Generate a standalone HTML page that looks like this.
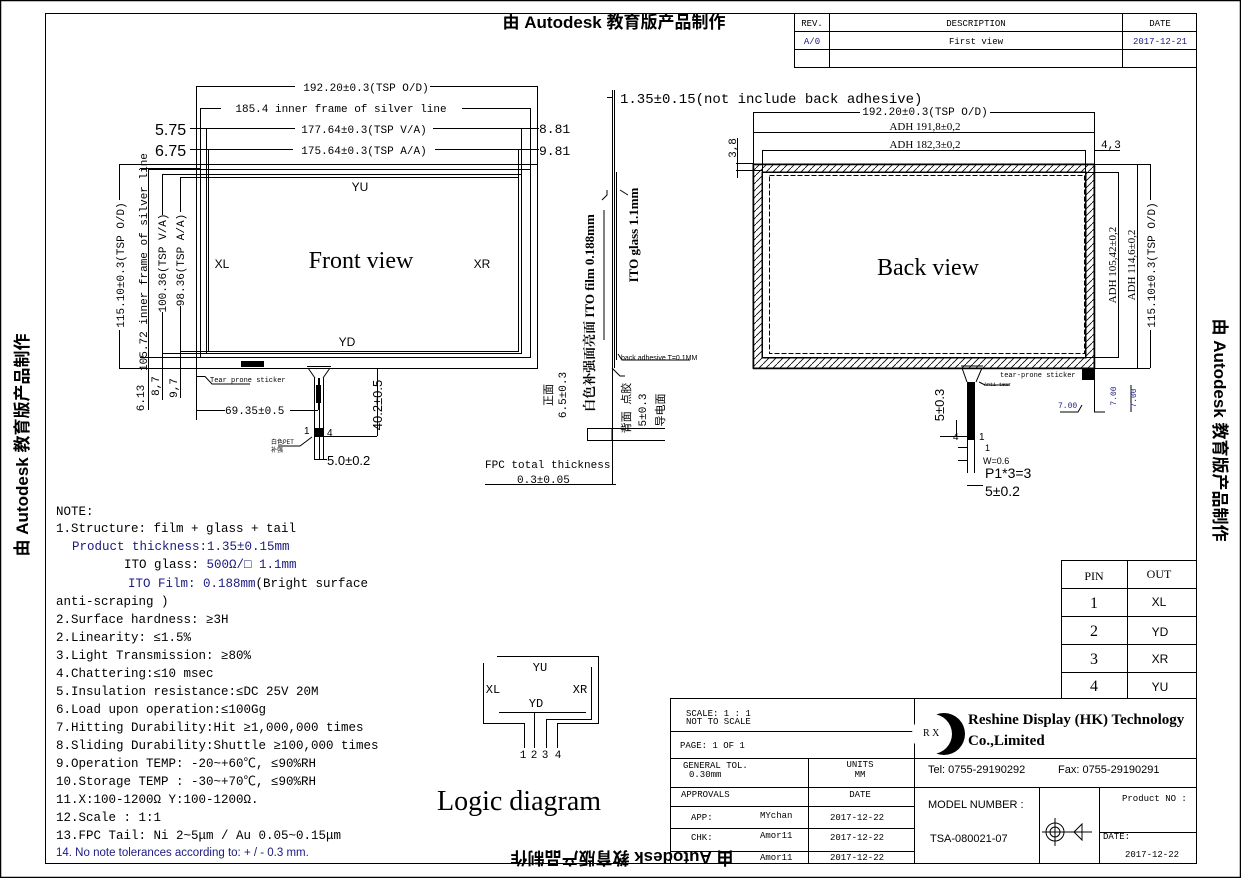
<!DOCTYPE html>
<html><head><meta charset="utf-8"><style>
html,body{margin:0;padding:0;background:#fff}
svg{display:block}
text{font-family:"Liberation Mono","Noto Sans CJK SC",monospace;fill:#000}
.s{font-family:"Liberation Sans","Noto Sans CJK SC",sans-serif}
.r{font-family:"Liberation Serif","Noto Serif CJK SC",serif}
.b{fill:#1a1a80}
</style></head><body>
<svg width="1241" height="878" viewBox="0 0 1241 878" xmlns="http://www.w3.org/2000/svg">
<defs>
<pattern id="h" width="7" height="7" patternUnits="userSpaceOnUse"><path d="M0 7 L7 0" stroke="#000" stroke-width="0.8"/></pattern>
</defs>
<g fill="none" stroke="#000" stroke-width="1">
<rect x="0.5" y="0.5" width="1240" height="877" stroke-width="1.5"/>
<rect x="45.5" y="13.5" width="1151" height="850"/>
<rect x="794.5" y="13.5" width="402" height="54"/>
<path d="M794 31.5H1196M794 49.5H1196M829.5 13V67M1122.5 13V67"/>
<rect x="196.5" y="164.5" width="341" height="204"/>
<rect x="200.5" y="169.5" width="330" height="188"/>
<rect x="206.5" y="174.5" width="315" height="179"/>
<rect x="208.5" y="177.5" width="310" height="174"/>
<path d="M119 164.5H196M119 368.5H196M140 168.5H200M148 169.5H200M162 174.5H206M180 177.5H208M140 357.5H200M162 353.5H206M180 351.5H208"/>
<path d="M196.5 86V164M537.5 86V164M196.5 368V420M200.5 108V169M530.5 108V169M206.5 128V174M521.5 128V174M208.5 149V177M518.5 149V177"/>
<path d="M196 86.5H295M430 86.5H537M200 108.5H221M462 108.5H530M206 128.5H295M433 128.5H539M208 149.5H293M435 149.5H539M190 128.5H206M190 149.5H208"/>
<path d="M119.5 164V200M119.5 330V368M148.5 169V410M162.5 174V215M162.5 312V400M180.5 177V212M180.5 306V398"/>
<path d="M196 410.5H225M290 410.5H318M318.5 378V410"/>
<path d="M307 366.5H331M308 368L315 378M330 368L323 378M314.5 378V459M323.5 378V459M319.5 378V459"/>
<path d="M377.5 368V436M323 436.5H377M314 459.5H327"/>
<path d="M196 376.5H205L212 384H250"/>
<path d="M278 446H300L312 437"/>
<path d="M612.5 90V165M614.5 90V165M607 97.5H612M612.5 165V485M614.5 165V368M616.5 172V360M612 368L620 376H625"/>
<path d="M587.5 428V440M587 428.5H665M587 440.5H665M612 428V440"/>
<path d="M485 484.5H616M618 354L622 360H690"/>
<path d="M602 200L607 195V190M604 340V210M620 190L628 195"/>
<path d="M753 164H1094V368H753Z M762 172V358H1086V172Z" fill="url(#h)" fill-rule="evenodd"/>
<rect x="753.5" y="164.5" width="341" height="204" stroke-width="1.5"/>
<rect x="762.5" y="172.5" width="323" height="185"/>
<rect x="769.5" y="175.5" width="315" height="178" stroke-dasharray="5 2"/>
<path d="M753.5 112V164M1094.5 112V164M762.5 150V172M1085.5 150V172M753 112.5H860M990 112.5H1094M753 132.5H1094M762 150.5H1085M1094 150.5H1120"/>
<path d="M736 163.5H753M736 170.5H762M737.5 138V178"/>
<path d="M1094 164.5H1150M1086 172.5H1118M1086 357.5H1118M1094 368.5H1150M1118.5 172V358M1137.5 164V368M1150.5 164V200M1150.5 330V368"/>
<path d="M961 366H983M962 368L967 382M982 368L976 382M967.5 382V473M974.5 382V473M971 382V440"/>
<path d="M979 382L985 385H1010M1082 405L1078 412H1060"/>
<path d="M940 436.5H967M956.5 420V436M958 460.5H967M958 447.5H967M967 485.5H980M976 485.5H983"/>
<path d="M1094.5 368V412H1105M1094 368.5H1150M1131 385V412"/>
<rect x="1061.5" y="560.5" width="135" height="138"/>
<path d="M1127.5 560V698M1061 588.5H1196M1061 616.5H1196M1061 644.5H1196M1061 672.5H1196"/>
<path d="M497 656.5H598.5V723.5H557.5V748M483.5 663V723.5H524.5V748M591.5 667V719.5H546.5V748M499 712.5H586M534.5 712V748"/>
<path d="M670.5 698.5H1196M670.5 698V864M914.5 698V864M670 731.5H914M670 758.5H1196M670 787.5H1196M670 806.5H914M670 828.5H914M670 851.5H914M808.5 758V864M1039.5 787V864M1099.5 787V864M1099 832.5H1196"/>
<circle cx="1055" cy="832" r="9"/><circle cx="1055" cy="832" r="5"/>
<path d="M1042 832H1092M1055 818V846M1074 832L1082 824V840Z"/>
</g>
<g fill="#000">
<rect x="241" y="361" width="23" height="6"/>
<rect x="314" y="428" width="9" height="9"/>
<rect x="316" y="385" width="5" height="18"/>
<rect x="967" y="382" width="7" height="58"/>
<rect x="1082" y="368" width="12" height="12"/>
</g>
<circle cx="944" cy="734" r="21" fill="#000"/>
<circle cx="932" cy="734" r="20" fill="#fff"/>
<text x="614" y="28" text-anchor="middle" class="s" font-size="17" font-weight="bold">由 Autodesk 教育版产品制作</text>
<text transform="translate(28,445) rotate(-90)" text-anchor="middle" class="s" font-size="17" font-weight="bold">由 Autodesk 教育版产品制作</text>
<text transform="translate(1214,430) rotate(90)" text-anchor="middle" class="s" font-size="17" font-weight="bold">由 Autodesk 教育版产品制作</text>
<text transform="translate(622,852) rotate(180)" text-anchor="middle" class="s" font-size="17" font-weight="bold">由 Autodesk 教育版产品制作</text>
<g class="s" font-size="9" text-anchor="middle">
<text x="812" y="26">REV.</text><text x="976" y="26">DESCRIPTION</text><text x="1160" y="26">DATE</text>
<text x="812" y="44" class="b">A/0</text><text x="976" y="44" font-family="Liberation Mono">First view</text><text x="1160" y="44" class="b">2017-12-21</text>
</g>
<g font-size="11">
<text x="366" y="91" text-anchor="middle">192.20±0.3(TSP O/D)</text>
<text x="341" y="112" text-anchor="middle">185.4 inner frame of silver line</text>
<text x="364" y="133" text-anchor="middle">177.64±0.3(TSP V/A)</text>
<text x="364" y="154" text-anchor="middle">175.64±0.3(TSP A/A)</text>
<text x="155" y="135" font-size="16" class="s">5.75</text>
<text x="155" y="156" font-size="16" class="s">6.75</text>
<text x="539" y="133" font-size="13">8.81</text>
<text x="539" y="155" font-size="13">9.81</text>
<text transform="translate(124,265) rotate(-90)" text-anchor="middle">115.10±0.3(TSP O/D)</text>
<text transform="translate(147,262) rotate(-90)" text-anchor="middle">105.72 inner frame of silver line</text>
<text transform="translate(166,263) rotate(-90)" text-anchor="middle">100.36(TSP V/A)</text>
<text transform="translate(184,260) rotate(-90)" text-anchor="middle">98.36(TSP A/A)</text>
<text transform="translate(144,398) rotate(-90)" text-anchor="middle">6.13</text>
<text transform="translate(159,386) rotate(-90)" text-anchor="middle">8,7</text>
<text transform="translate(177,388) rotate(-90)" text-anchor="middle">9,7</text>
<text x="225" y="414">69.35±0.5</text>
<text transform="translate(382,405) rotate(-90)" text-anchor="middle" font-size="13" class="s">40.2±0.5</text>
<text x="327" y="465" font-size="13" class="s">5.0±0.2</text>
<text x="304" y="434" font-size="10" class="s">1</text>
<text x="327" y="436" font-size="10" class="s">4</text>
<text x="210" y="382" font-size="7">Tear prone sticker</text>
<text x="271" y="444" font-size="6">白色PET</text><text x="271" y="452" font-size="6">补强</text>
<text x="361" y="268" font-size="24" text-anchor="middle" class="r">Front view</text>
<text x="360" y="191" font-size="12" text-anchor="middle" class="s">YU</text>
<text x="222" y="268" font-size="12" text-anchor="middle" class="s">XL</text>
<text x="482" y="268" font-size="12" text-anchor="middle" class="s">XR</text>
<text x="347" y="346" font-size="12" text-anchor="middle" class="s">YD</text>
</g>
<g font-size="14">
<text x="620" y="103">1.35±0.15(not include back adhesive)</text>
<text transform="translate(594,313) rotate(-90)" text-anchor="middle" font-weight="bold" font-size="13" class="r">白色补强面亮面 ITO film 0.188mm</text>
<text transform="translate(638,235) rotate(-90)" text-anchor="middle" font-weight="bold" font-size="13" class="r">ITO glass 1.1mm</text>
<text transform="translate(566,395) rotate(-90)" text-anchor="middle" font-size="11">6.5±0.3</text>
<text transform="translate(552,395) rotate(-90)" text-anchor="middle" font-size="11">正面</text>
<text transform="translate(630,408) rotate(-90)" text-anchor="middle" font-size="11">背面 点胶</text>
<text transform="translate(646,410) rotate(-90)" text-anchor="middle" font-size="11">5±0.3</text>
<text transform="translate(664,410) rotate(-90)" text-anchor="middle" font-size="11">导电面</text>
<text x="621" y="360" font-size="7" class="s">back adhesive  T=0.1MM</text>
<text x="485" y="468" font-size="11">FPC total thickness</text>
<text x="517" y="483" font-size="11">0.3±0.05</text>
</g>
<g font-size="11">
<text x="925" y="115" text-anchor="middle">192.20±0.3(TSP O/D)</text>
<text x="925" y="130" text-anchor="middle" class="r">ADH 191,8±0,2</text>
<text x="925" y="148" text-anchor="middle" class="r">ADH 182,3±0,2</text>
<text transform="translate(736,148) rotate(-90)" text-anchor="middle">3,8</text>
<text x="1101" y="148">4,3</text>
<text transform="translate(1116,265) rotate(-90)" text-anchor="middle" class="r">ADH 105,42±0,2</text>
<text transform="translate(1135,265) rotate(-90)" text-anchor="middle" class="r">ADH 114,6±0,2</text>
<text transform="translate(1155,265) rotate(-90)" text-anchor="middle">115.10±0.3(TSP O/D)</text>
<text x="928" y="275" font-size="24" text-anchor="middle" class="r">Back view</text>
<text x="1000" y="377" font-size="7">tear-prone sticker</text>
<text x="984" y="386" font-size="5">Anti-tear</text>
<text x="1058" y="408" font-size="8" class="b">7.00</text>
<text transform="translate(1116,396) rotate(-90)" text-anchor="middle" font-size="8" class="b">7.00</text>
<text transform="translate(1136,398) rotate(-90)" text-anchor="middle" font-size="8" class="b">7.00</text>
<text transform="translate(944,405) rotate(-90)" text-anchor="middle" font-size="13" class="s">5±0.3</text>
<text x="953" y="440" font-size="10" class="s">4</text>
<text x="979" y="440" font-size="10" class="s">1</text>
<text x="985" y="451" font-size="9" class="s">1</text>
<text x="983" y="464" font-size="9" class="s">W=0.6</text>
<text x="985" y="478" font-size="14" class="s">P1*3=3</text>
<text x="985" y="496" font-size="14" class="s">5±0.2</text>
</g>
<g font-size="12" text-anchor="middle">
<text x="1094" y="580" class="r">PIN</text><text x="1159" y="578" class="r">OUT</text>
<text x="1094" y="608" font-size="16" class="r">1</text><text x="1159" y="606" class="s">XL</text>
<text x="1094" y="636" font-size="16" class="r">2</text><text x="1160" y="636" class="s">YD</text>
<text x="1094" y="664" font-size="16" class="r">3</text><text x="1160" y="663" class="s">XR</text>
<text x="1094" y="691" font-size="16" class="r">4</text><text x="1160" y="691" class="s">YU</text>
</g>
<g font-size="12" class="s" text-anchor="middle">
<text x="540" y="671">YU</text><text x="493" y="693">XL</text><text x="580" y="693">XR</text><text x="536" y="707">YD</text>
<text x="523" y="758" font-size="11">1</text><text x="534" y="758" font-size="11">2</text><text x="545" y="758" font-size="11">3</text><text x="558" y="758" font-size="11">4</text>
</g>
<text x="437" y="810" font-size="28" class="r">Logic diagram</text>
<g font-size="12.5">
<text x="56" y="515">NOTE:</text>
<text x="56" y="532">1.Structure: film + glass + tail</text>
<text x="72" y="550" class="b">Product thickness:1.35±0.15mm</text>
<text x="124" y="568">ITO  glass: <tspan class="b">500Ω/□ 1.1mm</tspan></text>
<text x="128" y="587"><tspan class="b">ITO  Film: 0.188mm</tspan>(Bright surface</text>
<text x="56" y="605">anti-scraping )</text>
<text x="56" y="623">2.Surface hardness: ≥3H</text>
<text x="56" y="641">2.Linearity:  ≤1.5%</text>
<text x="56" y="659">3.Light Transmission: ≥80%</text>
<text x="56" y="677">4.Chattering:≤10 msec</text>
<text x="56" y="695">5.Insulation resistance:≤DC 25V 20M</text>
<text x="56" y="713">6.Load upon operation:≤100Gg</text>
<text x="56" y="731">7.Hitting Durability:Hit ≥1,000,000 times</text>
<text x="56" y="749">8.Sliding Durability:Shuttle ≥100,000 times</text>
<text x="56" y="767">9.Operation TEMP: -20~+60℃, ≤90%RH</text>
<text x="56" y="785">10.Storage TEMP : -30~+70℃, ≤90%RH</text>
<text x="56" y="803">11.X:100-1200Ω Y:100-1200Ω.</text>
<text x="56" y="821">12.Scale : 1:1</text>
<text x="56" y="839">13.FPC Tail: Ni 2~5μm / Au 0.05~0.15μm</text>
<text x="56" y="856" class="s b" font-size="11.5">14. No note tolerances according to: + / - 0.3 mm.</text>
</g>
<g font-size="9" class="r">
<text x="686" y="716">SCALE: 1 : 1</text><text x="686" y="724">NOT TO SCALE</text>
<text x="680" y="748">PAGE: 1 OF 1</text>
<text x="683" y="768">GENERAL TOL.</text><text x="689" y="777">0.30mm</text>
<text x="860" y="767" text-anchor="middle">UNITS</text><text x="860" y="777" text-anchor="middle">MM</text>
<text x="681" y="797">APPROVALS</text><text x="860" y="797" text-anchor="middle">DATE</text>
<text x="691" y="820">APP:</text><text x="760" y="818">MYchan</text><text x="857" y="820" text-anchor="middle">2017-12-22</text>
<text x="691" y="840">CHK:</text><text x="760" y="838">Amor11</text><text x="857" y="840" text-anchor="middle">2017-12-22</text>
<text x="760" y="860">Amor11</text><text x="857" y="860" text-anchor="middle">2017-12-22</text>
<text x="1122" y="801">Product NO :</text>
<text x="1103" y="839">DATE:</text><text x="1152" y="857" text-anchor="middle">2017-12-22</text>
</g>
<text x="923" y="736" font-size="10" class="r">R X</text>
<text x="968" y="724" font-size="15" font-weight="bold" class="r">Reshine Display (HK) Technology</text>
<text x="968" y="745" font-size="15" font-weight="bold" class="r">Co.,Limited</text>
<text x="928" y="773" font-size="11" class="s">Tel: 0755-29190292</text>
<text x="1058" y="773" font-size="11" class="s">Fax: 0755-29190291</text>
<text x="928" y="808" font-size="11" class="s">MODEL NUMBER :</text>
<text x="930" y="842" font-size="11" class="s">TSA-080021-07</text>
</svg>
</body></html>
